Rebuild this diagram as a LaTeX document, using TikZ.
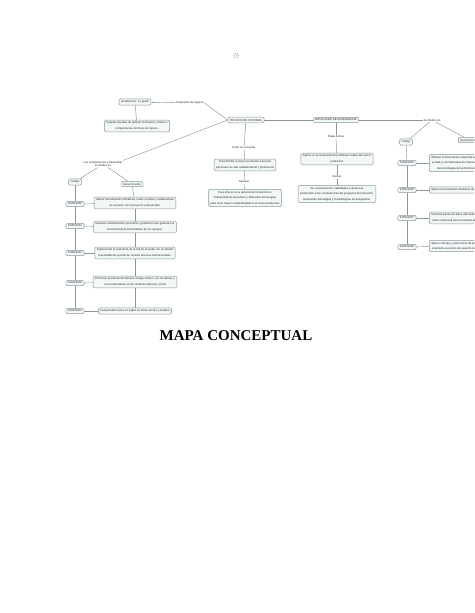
\documentclass[tikz,border=0pt]{standalone}
\usepackage{fontspec}
\setmainfont{Liberation Serif}
\setsansfont{Liberation Sans}
\usetikzlibrary{arrows.meta}
\definecolor{cmapline}{HTML}{8A9699}
\definecolor{cmapfill}{HTML}{F2F7F8}
\definecolor{cmaptext}{HTML}{262626}
\definecolor{iconcol}{HTML}{9CC9B4}
\newcommand{\cmapfont}{\sffamily\fontsize{2.8}{5.6}\selectfont}
\newcommand{\linkfont}{\sffamily\fontsize{2.8}{3.6}\selectfont}
\tikzset{
    concept/.style={draw=cmapline, fill=cmapfill, rounded corners=1.3pt,
    	line width=0.5pt, inner xsep=2pt, inner ysep=1.7pt, align=center,
    	font=\cmapfont, text=cmaptext}
}
\tikzset{
    linkword/.style={fill=white, inner sep=0.6pt, align=center,
    	font=\linkfont, text=cmaptext}
}
\tikzset{
    every edge/.append style={draw=cmapline, line width=0.45pt}
}
\tikzset{
    arrowlink/.style={-{Latex[length=2.2pt,width=1.8pt]}}
}
\pgfdeclarelayer{background}
\pgfsetlayers{background,main}

\begin{document}
\begin{tikzpicture}[x=1pt, y=-1pt]
  \useasboundingbox (0,0) rectangle (474,613);
  \clip (0,0) rectangle (474,613);

  % marca pequena arriba
  \node (icono) [draw=iconcol, fill=iconcol!30, dotted, minimum size=3.5pt,
  	inner sep=0pt] at (236,55) {};

  % rama de ingreso
  \node (acad) [concept] at (135,102) {Académicos: 11 grado};
  \node (requisitos) [linkword] at (190,103) {Requisitos de ingreso};
  \node (superar) [concept] at (137,126) {Superar pruebas de aptitud, motivación, interés y\\competencias mínimas de ingreso.};
  \node (tecnico) [concept] at (246,120) {TÉCNICO EN SISTEMAS};

  % competencias (izquierda)
  \node (competencias) [linkword] at (103,164) {Las competencias a desarrollar\\se dividen en};
  \node (codigoL) [concept] at (75,182) {Código};
  \node (denomL) [concept] at (132,184) {Denominación};
  \node (cL1) [concept] at (75,204) {220501046};
  \node (cL2) [concept] at (75,226) {220501014};
  \node (cL3) [concept] at (75,253) {220501012};
  \node (cL4) [concept] at (75,283) {240201500};
  \node (cL5) [concept] at (75,311) {240201501};
  \node (tL1) [concept] at (135,203) {Aplicar herramientas ofimáticas, redes sociales y colaborativas\\de acuerdo con el proyecto a desarrollar.};
  \node (tL2) [concept] at (135,227) {Realizar mantenimiento preventivo y predictivo que garantice el\\funcionamiento del hardware de los equipos.};
  \node (tL3) [concept] at (135,253) {Implementar la estructura de la red de acuerdo con un diseño\\preestablecido a partir de normas técnicas internacionales.};
  \node (tL4) [concept] at (135,282) {Promover la interacción idónea consigo mismo, con los demás y\\con la naturaleza en los contextos laboral y social};
  \node (tL5) [concept] at (135,311) {Comprender textos en inglés en forma escrita y auditiva};

  % perfil (centro)
  \node (estar) [linkword] at (244,148) {Estar en una pista};
  \node (brindar) [concept] at (245,165) {Para brindar al sector productivo nacional\\personas con alta calidad laboral y profesional};
  \node (generar) [linkword] at (244,182) {Generar};
  \node (ofrecer) [concept] at (245,198) {Para ofrecer a los aprendices formación en\\mantenimiento preventivo y diferentes tecnologías\\para crear mayor competitividad en el sector productivo};

  % resultado de aprendizaje
  \node (resultado) [concept] at (336,120) {RESULTADO DE APRENDIZAJE};
  \node (etapa) [linkword] at (336,137) {Etapa lectiva};
  \node (resolucion) [concept] at (337,159) {Aplicar en la resolución de problemas reales del sector\\productivo};
  \node (aplicar) [linkword] at (337,177) {Aplicar};
  \node (conocimientos) [concept] at (337,194) {los conocimientos, habilidades y destrezas\\pertinentes a las competencias del programa de formación,\\asumiendo estrategias y metodologías de autogestión.};

  % derecha (cortada por el borde)
  \node (sedividen) [linkword] at (432,120) {Se dividen en};
  \node (codigoR) [concept] at (406,142) {Código};
  \node (denomR) [concept, anchor=west] at (458,140) {Denominación};
  \node (cR1) [concept] at (407,163) {220501001};
  \node (cR2) [concept] at (407,190) {220501046};
  \node (cR3) [concept] at (407,218) {220501007};
  \node (cR4) [concept] at (407,247) {220501008};
  \node (tR1) [concept, anchor=west] at (429,163) {Obtener la información requerida en redes\\sociales y herramientas de interacción de\\las tecnologías de la información};
  \node (tR2) [concept, anchor=west] at (429,190) {Aplicar herramientas ofimáticas de acuerdo con el manual};
  \node (tR3) [concept, anchor=west] at (429,218) {Construir bases de datos utilizando un modelo de\\datos relacional para el sistema de información};
  \node (tR4) [concept, anchor=west] at (429,246) {Aplicar enfoque y estructuras de programación\\orientado a eventos de acuerdo con el diseño};

  % titulo
  \node (titulo) [font=\rmfamily\bfseries\fontsize{15}{18}\selectfont] at (236,336) {MAPA CONCEPTUAL};

  \begin{pgfonlayer}{background}
  \fill[white] (0,0) rectangle (474,613);
  \draw (tecnico.west) edge (requisitos.east); \draw (tecnico.west) edge (competencias.north east);
  \draw (acad) edge (superar); \draw (competencias) edge (denomL);
  \draw (tecnico) edge (estar); \draw (estar) edge (brindar);
  \draw (brindar) edge (generar); \draw (generar) edge (ofrecer);
  \draw (tecnico) edge (resultado); \draw (resultado) edge (etapa);
  \draw (etapa) edge (resolucion); \draw (resolucion) edge (aplicar);
  \draw (aplicar) edge (conocimientos); \draw (resultado) edge (sedividen);
  \draw (sedividen) edge (codigoR); \draw (sedividen) edge (denomR);
  \draw (codigoL) edge (cL1); \draw (cL1) edge (cL2); \draw (cL2) edge (cL3);
  \draw (cL3) edge (cL4); \draw (cL4) edge (cL5);
  \draw (denomL) edge (tL1); \draw (tL1) edge (tL2); \draw (tL2) edge (tL3);
  \draw (tL3) edge (tL4); \draw (tL4) edge (tL5);
  \draw (cL1) edge (tL1); \draw (cL2) edge (tL2); \draw (cL3) edge (tL3);
  \draw (cL4) edge (tL4); \draw (cL5) edge (tL5);
  \draw (codigoR) edge (cR1); \draw (cR1) edge (cR2); \draw (cR2) edge (cR3);
  \draw (cR3) edge (cR4);
  \draw (cR1) edge (tR1); \draw (cR2) edge (tR2); \draw (cR3) edge (tR3);
  \draw (cR4) edge (tR4);
  \end{pgfonlayer}
  \draw (requisitos) edge[arrowlink] (acad);
  \draw (competencias) edge[arrowlink] (codigoL);
\end{tikzpicture}
\end{document}
